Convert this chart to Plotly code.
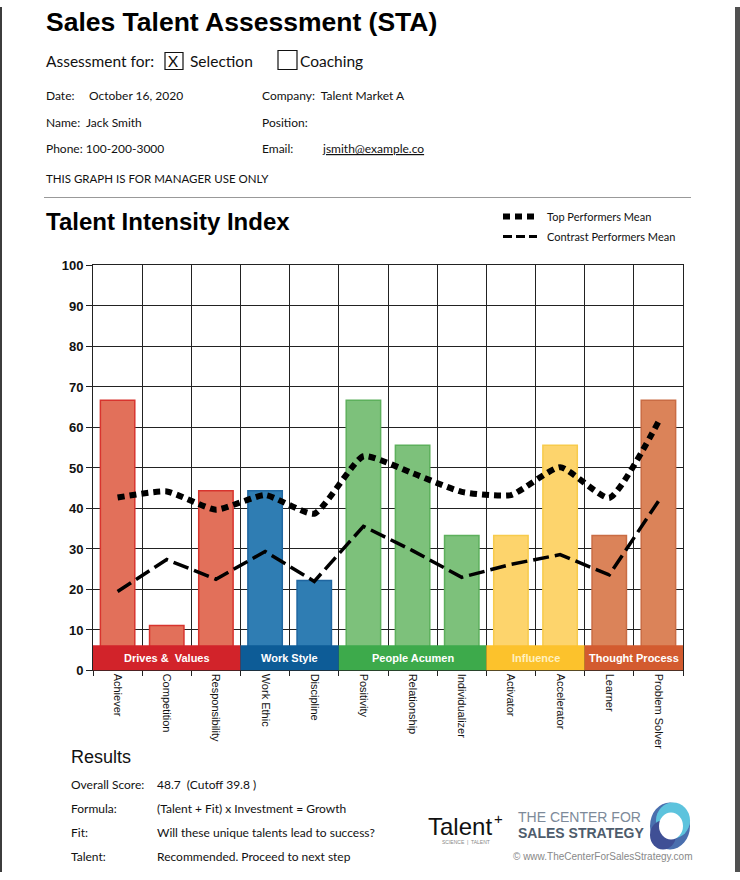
import plotly.graph_objects as go

# ---------------- data ----------------
categories = ["Achiever", "Competition", "Responsibility", "Work Ethic", "Discipline",
              "Positivity", "Relationship", "Individualizer", "Activator", "Accelerator",
              "Learner", "Problem Solver"]
scores = [66.7, 11.1, 44.4, 44.4, 22.2, 66.7, 55.6, 33.3, 33.3, 55.6, 33.3, 66.7]
top_mean = [42.7, 44.2, 39.7, 43.3, 38.7, 52.9, 48.7, 44.1, 43.3, 50.2, 42.6, 61.4]
contrast_mean = [19.5, 27.4, 22.5, 29.4, 22.0, 35.6, 29.6, 23.0, 26.2, 28.6, 23.6, 41.8]

group_names = ["Drives &  Values", "Work Style", "People Acumen", "Influence", "Thought Process"]
group_sizes = [3, 2, 3, 2, 2]
band_colors = ["#D2232A", "#0D5C97", "#3DAA4B", "#FCC22C", "#D35B2F"]
band_text_colors = ["#FFFFFF", "#FFFFFF", "#FFFFFF", "#FFF1C0", "#FFFFFF"]
bar_fill_colors = ["#E2705A", "#2F7DB3", "#7DC17B", "#FDD46C", "#DB8359"]
bar_edge_colors = ["#D8342E", "#1F66A0", "#5DB05C", "#F7CB4C", "#C96C44"]
y_ticks = list(range(0, 101, 10))
band_height = 6.2

W = 740
H_FIG = 880
# observed page placement: screen_y = V_SCALE * fig_y + V_OFF
V_SCALE = 0.983
V_OFF = 6.5


def px(x):
    return x / W


def py(y):
    return 1 - ((y - V_OFF) / V_SCALE) / H_FIG


# per-bar colours from groups
fills, edges = [], []
for gi, n in enumerate(group_sizes):
    fills += [bar_fill_colors[gi]] * n
    edges += [bar_edge_colors[gi]] * n

fig = go.Figure()
fig.add_trace(go.Bar(
    x=categories, y=scores, width=0.7,
    marker=dict(color=fills, line=dict(color=edges, width=1.5)),
    hoverinfo="skip", showlegend=False))
fig.add_trace(go.Scatter(
    x=categories, y=top_mean, mode="lines",
    line=dict(color="black", width=6, dash="7px,5px", shape="spline", smoothing=0.5),
    hoverinfo="skip", showlegend=False))
fig.add_trace(go.Scatter(
    x=categories, y=contrast_mean, mode="lines",
    line=dict(color="black", width=3.5, dash="16px,6px"),
    hoverinfo="skip", showlegend=False))

shapes = []
annotations = []

# category bands
start = -0.5
for gi, n in enumerate(group_sizes):
    end = start + n
    shapes.append(dict(type="rect", xref="x", yref="y", x0=start, x1=end, y0=0, y1=band_height,
                       fillcolor=band_colors[gi], line=dict(width=0), layer="above"))
    annotations.append(dict(x=(start + end) / 2, y=band_height / 2, xref="x", yref="y",
                            text="<b>" + group_names[gi] + "</b>", showarrow=False,
                            font=dict(family="Liberation Sans, Arial", size=11,
                                      color=band_text_colors[gi])))
    start = end


def text(x, y, s, size=12, family="Lato", color="#111", weight="normal", xanchor="left", **kw):
    annotations.append(dict(x=px(x), y=py(y), xref="paper", yref="paper", text=s,
                            showarrow=False, xanchor=xanchor, yanchor="middle",
                            font=dict(family=family, size=size, color=color, weight=weight, **kw)))


# header
text(44, 22, "Sales Talent Assessment (STA)", size=26.5, family="Liberation Sans, Arial",
     color="black", weight="bold")
text(44, 61, "Assessment for:", size=15.5)
shapes.append(dict(type="rect", xref="paper", yref="paper", x0=px(165), x1=px(183),
                   y0=py(69), y1=py(52), line=dict(color="#111", width=1.2)))
text(166, 61, "X", size=15.5)
text(188, 61, "Selection", size=15.5)
shapes.append(dict(type="rect", xref="paper", yref="paper", x0=px(278), x1=px(297),
                   y0=py(69), y1=py(50), line=dict(color="#111", width=1.2)))
text(298, 61, "Coaching", size=15.5)

text(44, 95, "Date:", size=12)
text(87, 95, "October 16, 2020", size=12)
text(44, 122, "Name:  Jack Smith", size=12)
text(44, 148, "Phone: 100-200-3000", size=12)
text(260, 95, "Company:  Talent Market A", size=12)
text(260, 122, "Position:", size=12)
text(260, 148, "Email:", size=12)
text(320, 148, "jsmith@example.co", size=12, lineposition="under")
text(44, 178, "THIS GRAPH IS FOR MANAGER USE ONLY", size=11.5)
shapes.append(dict(type="line", xref="paper", yref="paper", x0=px(44), x1=px(691),
                   y0=py(197), y1=py(197), line=dict(color="#999", width=1.2)))

# chart title & legend
text(44, 221, "Talent Intensity Index", size=24, family="Liberation Sans, Arial",
     color="black", weight="bold")
shapes.append(dict(type="line", xref="paper", yref="paper", x0=px(503), x1=px(536),
                   y0=py(216), y1=py(216), line=dict(color="black", width=6, dash="7px,5px")))
shapes.append(dict(type="line", xref="paper", yref="paper", x0=px(503), x1=px(537),
                   y0=py(236), y1=py(236), line=dict(color="black", width=3, dash="9px,4px")))
text(545, 216, "Top Performers Mean", size=11)
text(545, 236, "Contrast Performers Mean", size=11)

# results
text(69, 757, "Results", size=18, family="Liberation Sans, Arial", color="#111")
rows = [("Overall Score:", "48.7  (Cutoff 39.8 )"),
        ("Formula:", "(Talent + Fit) x Investment = Growth"),
        ("Fit:", "Will these unique talents lead to success?"),
        ("Talent:", "Recommended. Proceed to next step")]
for i, (k, v) in enumerate(rows):
    yy = 784 + 24 * i
    text(69, yy, k, size=12)
    text(155, yy, v, size=12)

# logos
text(426, 826, "Talent", size=24, family="Liberation Sans Narrow, Liberation Sans", color="#111")
text(492, 818, "+", size=15, family="Liberation Sans", color="#111")
text(440, 842, "SCIENCE  |  TALENT", size=5, family="Liberation Sans", color="#888")
text(516, 817, "THE CENTER FOR", size=14, family="Liberation Sans", color="#7D8A99")
text(516, 833, "<b>SALES STRATEGY</b>", size=14, family="Liberation Sans", color="#4E5C6C")
text(511, 856, "© www.TheCenterForSalesStrategy.com", size=10, family="Liberation Sans", color="#888")
shapes.append(dict(type="circle", xref="paper", yref="paper", x0=px(650), x1=px(690),
                   y0=py(849), y1=py(802), fillcolor="#4A6FAE", line=dict(width=0)))
shapes.append(dict(type="circle", xref="paper", yref="paper", x0=px(656), x1=px(690),
                   y0=py(838), y1=py(802), fillcolor="#5DC3DD", line=dict(width=0)))
shapes.append(dict(type="circle", xref="paper", yref="paper", x0=px(650), x1=px(676),
                   y0=py(849), y1=py(820), fillcolor="#3F4F95", line=dict(width=0)))
shapes.append(dict(type="circle", xref="paper", yref="paper", x0=px(659), x1=px(683),
                   y0=py(839), y1=py(812), fillcolor="white", line=dict(width=0)))

# page edges
shapes.append(dict(type="rect", xref="paper", yref="paper", x0=0, x1=px(2), y0=0, y1=1,
                   fillcolor="#3C3C3C", line=dict(width=0)))
shapes.append(dict(type="rect", xref="paper", yref="paper", x0=px(735), x1=1, y0=0, y1=1,
                   fillcolor="#505050", line=dict(width=0)))

fig.update_layout(
    width=W, height=H_FIG, margin=dict(l=0, r=0, t=0, b=0),
    paper_bgcolor="white", plot_bgcolor="white",
    bargap=0.3, showlegend=False,
    shapes=shapes, annotations=annotations,
    xaxis=dict(domain=[px(93), px(683)], type="category", range=[-0.5, 11.5],
               tickson="boundaries", ticks="outside", ticklen=5, tickcolor="#222",
               showgrid=True, gridcolor="#222", gridwidth=1,
               showline=True, linecolor="#222", linewidth=1, mirror=True,
               tickangle=90, tickfont=dict(family="Liberation Sans, Arial", size=11, color="#111")),
    yaxis=dict(domain=[py(670), py(265)], range=[0, 100], tickvals=y_ticks,
               ticks="outside", ticklen=6, tickcolor="#222",
               showgrid=True, gridcolor="#222", gridwidth=1, zeroline=False,
               showline=True, linecolor="#222", linewidth=1, mirror=True,
               tickfont=dict(family="Liberation Sans, Arial", size=13, color="#111", weight="bold")),
)

fig.write_html("out.html")
